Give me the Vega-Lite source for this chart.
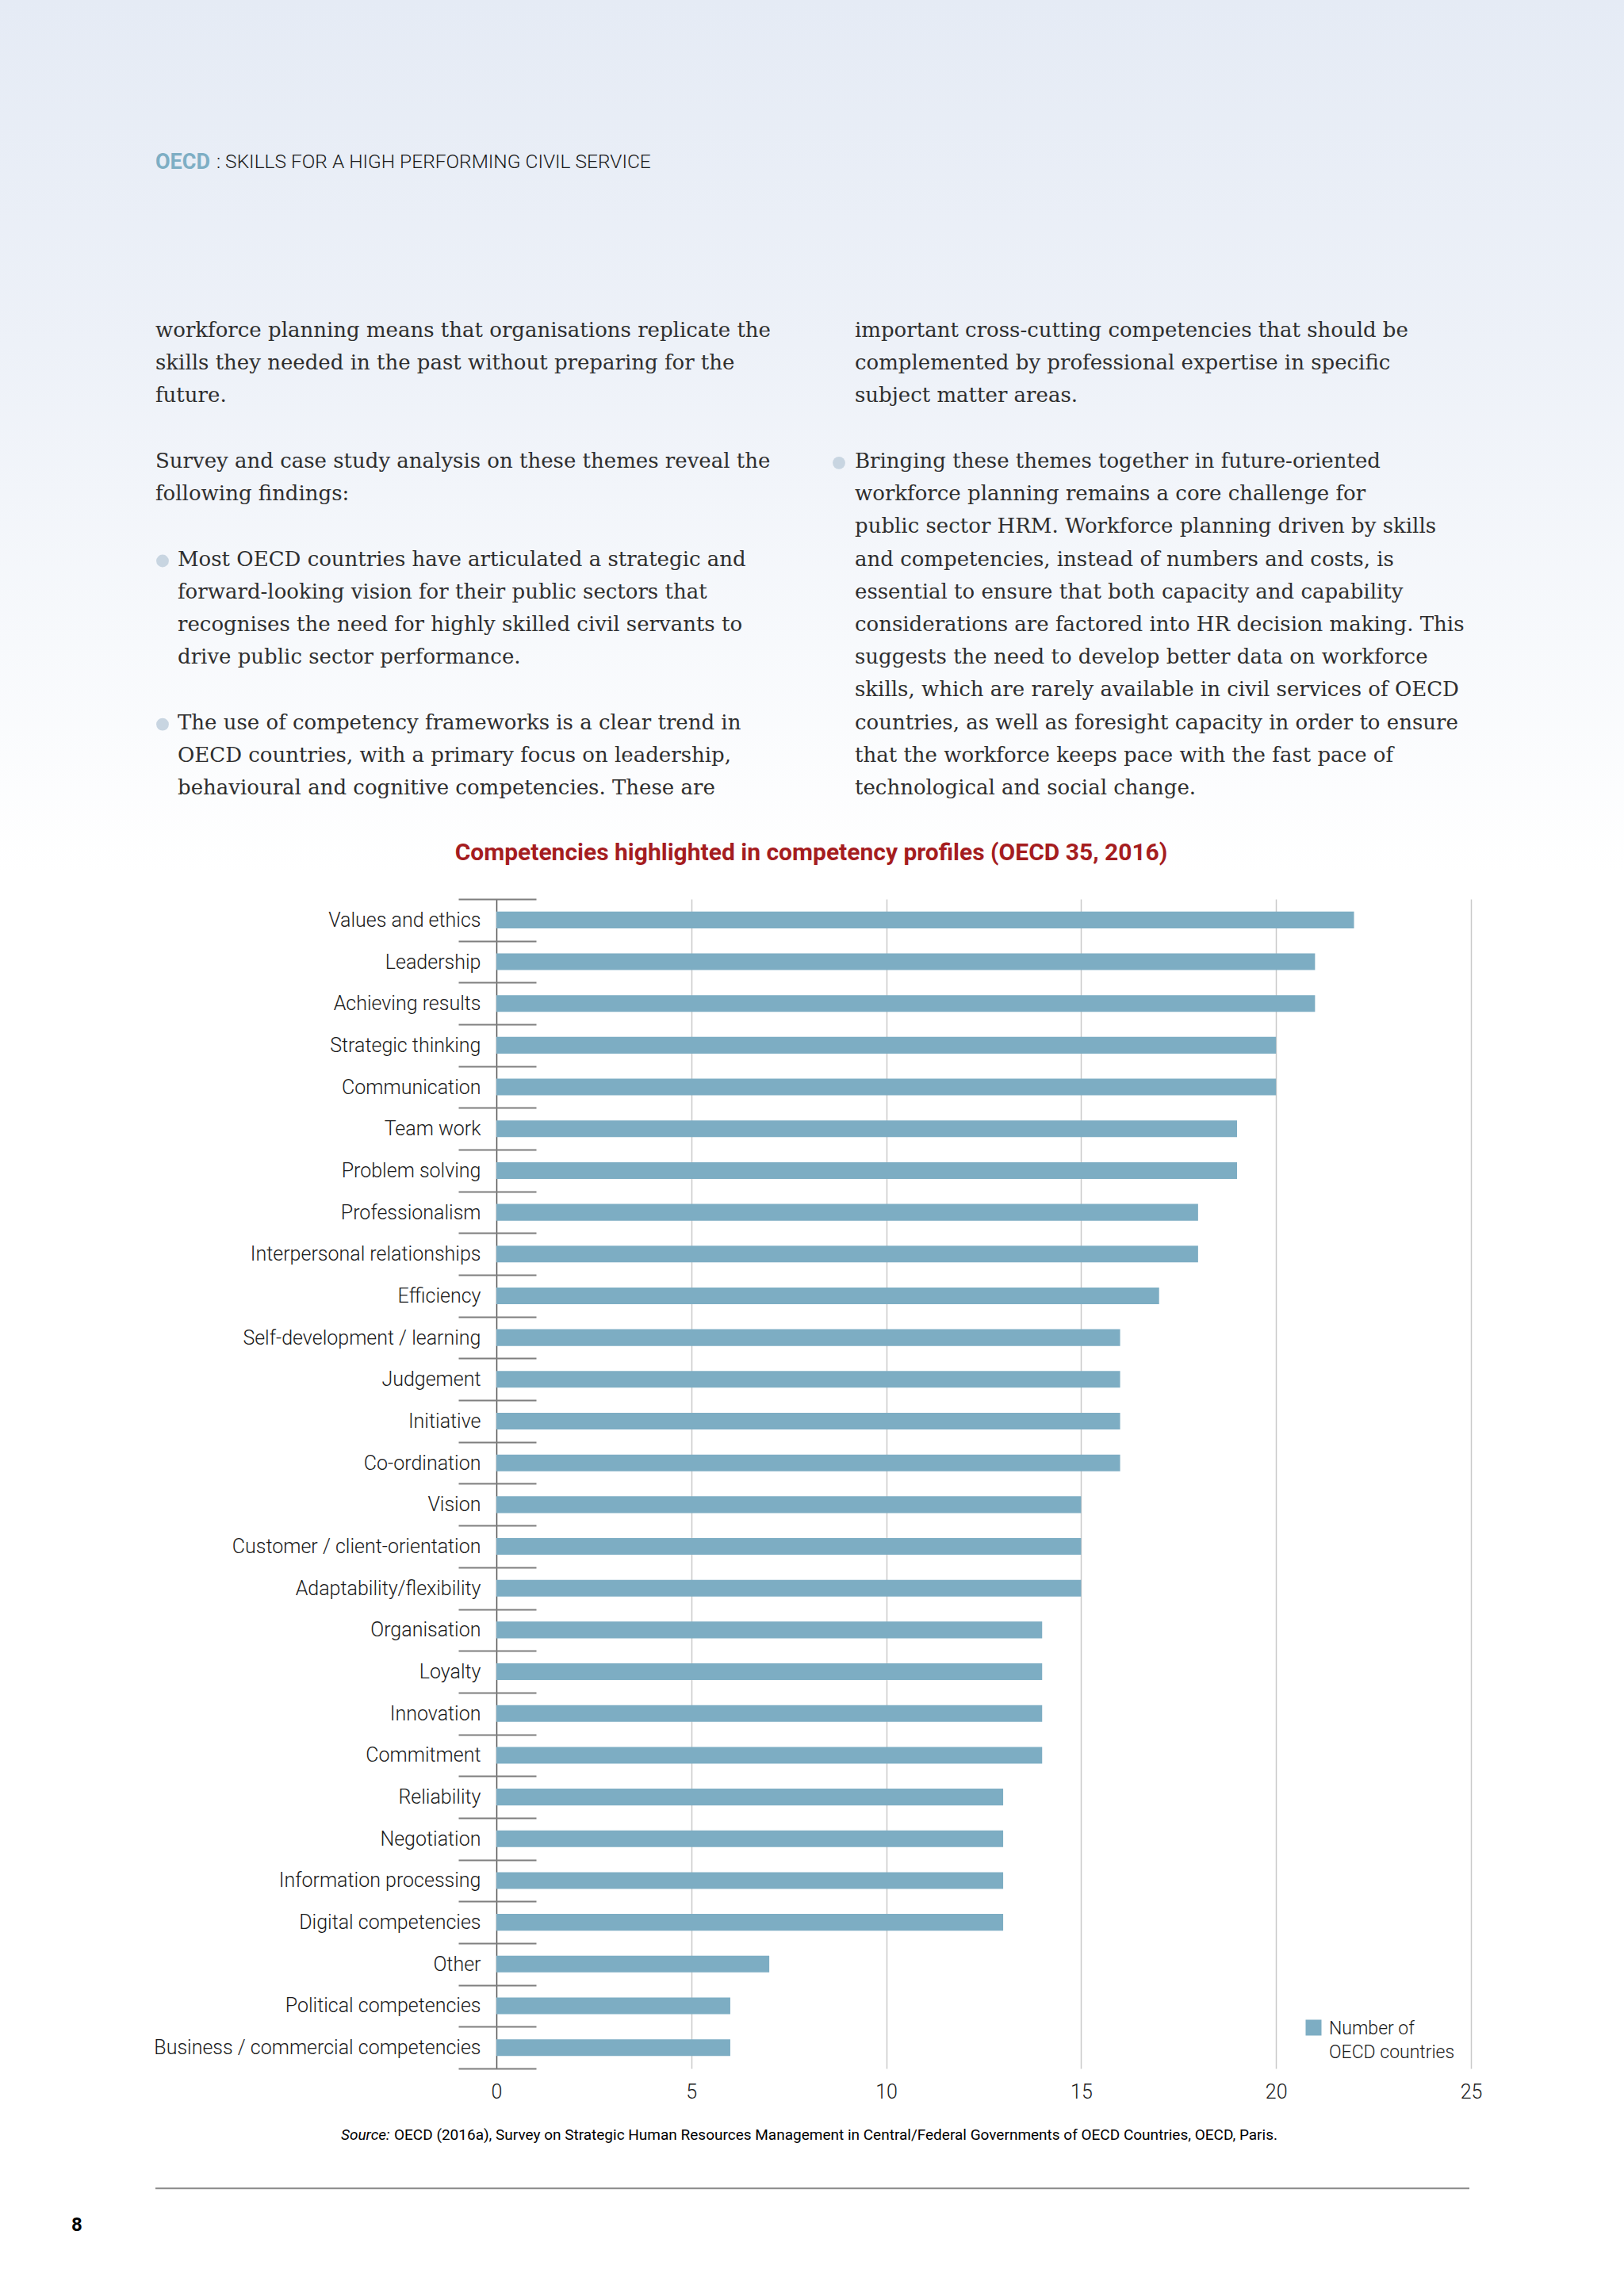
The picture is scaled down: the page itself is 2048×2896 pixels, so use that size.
{
  "$schema": "https://vega.github.io/schema/vega-lite/v6.json",
  "width": 2048,
  "height": 2896,
  "autosize": {"type": "none"},
  "padding": 0,
  "background": "#ffffff",
  "config": {
    "view": {
      "stroke": null,
      "fill": {
        "gradient": "linear",
        "x1": 0, "y1": 0, "x2": 0, "y2": 1,
        "stops": [
          {"offset": 0, "color": "#e5ebf5"},
          {"offset": 0.15, "color": "#edf1f8"},
          {"offset": 0.28, "color": "#f7f9fc"},
          {"offset": 0.38, "color": "#ffffff"},
          {"offset": 1, "color": "#ffffff"}
        ]
      }
    },
    "font": "Roboto"
  },
  "datasets": {
    "bars": [
      {"competency": "Values and ethics", "count": 22, "measure": "Number of OECD countries"},
      {"competency": "Leadership", "count": 21, "measure": "Number of OECD countries"},
      {"competency": "Achieving results", "count": 21, "measure": "Number of OECD countries"},
      {"competency": "Strategic thinking", "count": 20, "measure": "Number of OECD countries"},
      {"competency": "Communication", "count": 20, "measure": "Number of OECD countries"},
      {"competency": "Team work", "count": 19, "measure": "Number of OECD countries"},
      {"competency": "Problem solving", "count": 19, "measure": "Number of OECD countries"},
      {"competency": "Professionalism", "count": 18, "measure": "Number of OECD countries"},
      {"competency": "Interpersonal relationships", "count": 18, "measure": "Number of OECD countries"},
      {"competency": "Efficiency", "count": 17, "measure": "Number of OECD countries"},
      {"competency": "Self-development / learning", "count": 16, "measure": "Number of OECD countries"},
      {"competency": "Judgement", "count": 16, "measure": "Number of OECD countries"},
      {"competency": "Initiative", "count": 16, "measure": "Number of OECD countries"},
      {"competency": "Co-ordination", "count": 16, "measure": "Number of OECD countries"},
      {"competency": "Vision", "count": 15, "measure": "Number of OECD countries"},
      {"competency": "Customer / client-orientation", "count": 15, "measure": "Number of OECD countries"},
      {"competency": "Adaptability/flexibility", "count": 15, "measure": "Number of OECD countries"},
      {"competency": "Organisation", "count": 14, "measure": "Number of OECD countries"},
      {"competency": "Loyalty", "count": 14, "measure": "Number of OECD countries"},
      {"competency": "Innovation", "count": 14, "measure": "Number of OECD countries"},
      {"competency": "Commitment", "count": 14, "measure": "Number of OECD countries"},
      {"competency": "Reliability", "count": 13, "measure": "Number of OECD countries"},
      {"competency": "Negotiation", "count": 13, "measure": "Number of OECD countries"},
      {"competency": "Information processing", "count": 13, "measure": "Number of OECD countries"},
      {"competency": "Digital competencies", "count": 13, "measure": "Number of OECD countries"},
      {"competency": "Other", "count": 7, "measure": "Number of OECD countries"},
      {"competency": "Political competencies", "count": 6, "measure": "Number of OECD countries"},
      {"competency": "Business / commercial competencies", "count": 6, "measure": "Number of OECD countries"}
    ],
    "page": [
      {"kind": "h1", "text": "OECD", "col": 0, "row": -5},
      {"kind": "h2", "text": ": SKILLS FOR A HIGH PERFORMING CIVIL SERVICE", "col": 0, "row": -5},
      {"kind": "body", "col": 0, "row": 0, "indent": false, "bullet": false, "text": "workforce planning means that organisations replicate the"},
      {"kind": "body", "col": 0, "row": 1, "indent": false, "bullet": false, "text": "skills they needed in the past without preparing for the"},
      {"kind": "body", "col": 0, "row": 2, "indent": false, "bullet": false, "text": "future."},
      {"kind": "body", "col": 0, "row": 4, "indent": false, "bullet": false, "text": "Survey and case study analysis on these themes reveal the"},
      {"kind": "body", "col": 0, "row": 5, "indent": false, "bullet": false, "text": "following findings:"},
      {"kind": "body", "col": 0, "row": 7, "indent": true, "bullet": true, "text": "Most OECD countries have articulated a strategic and"},
      {"kind": "body", "col": 0, "row": 8, "indent": true, "bullet": false, "text": "forward-looking vision for their public sectors that"},
      {"kind": "body", "col": 0, "row": 9, "indent": true, "bullet": false, "text": "recognises the need for highly skilled civil servants to"},
      {"kind": "body", "col": 0, "row": 10, "indent": true, "bullet": false, "text": "drive public sector performance."},
      {"kind": "body", "col": 0, "row": 12, "indent": true, "bullet": true, "text": "The use of competency frameworks is a clear trend in"},
      {"kind": "body", "col": 0, "row": 13, "indent": true, "bullet": false, "text": "OECD countries, with a primary focus on leadership,"},
      {"kind": "body", "col": 0, "row": 14, "indent": true, "bullet": false, "text": "behavioural and cognitive competencies. These are"},
      {"kind": "body", "col": 1, "row": 0, "indent": false, "bullet": false, "text": "important cross-cutting competencies that should be"},
      {"kind": "body", "col": 1, "row": 1, "indent": false, "bullet": false, "text": "complemented by professional expertise in specific"},
      {"kind": "body", "col": 1, "row": 2, "indent": false, "bullet": false, "text": "subject matter areas."},
      {"kind": "body", "col": 1, "row": 4, "indent": false, "bullet": true, "text": "Bringing these themes together in future-oriented"},
      {"kind": "body", "col": 1, "row": 5, "indent": false, "bullet": false, "text": "workforce planning remains a core challenge for"},
      {"kind": "body", "col": 1, "row": 6, "indent": false, "bullet": false, "text": "public sector HRM. Workforce planning driven by skills"},
      {"kind": "body", "col": 1, "row": 7, "indent": false, "bullet": false, "text": "and competencies, instead of numbers and costs, is"},
      {"kind": "body", "col": 1, "row": 8, "indent": false, "bullet": false, "text": "essential to ensure that both capacity and capability"},
      {"kind": "body", "col": 1, "row": 9, "indent": false, "bullet": false, "text": "considerations are factored into HR decision making. This"},
      {"kind": "body", "col": 1, "row": 10, "indent": false, "bullet": false, "text": "suggests the need to develop better data on workforce"},
      {"kind": "body", "col": 1, "row": 11, "indent": false, "bullet": false, "text": "skills, which are rarely available in civil services of OECD"},
      {"kind": "body", "col": 1, "row": 12, "indent": false, "bullet": false, "text": "countries, as well as foresight capacity in order to ensure"},
      {"kind": "body", "col": 1, "row": 13, "indent": false, "bullet": false, "text": "that the workforce keeps pace with the fast pace of"},
      {"kind": "body", "col": 1, "row": 14, "indent": false, "bullet": false, "text": "technological and social change."},
      {"kind": "title", "text": "Competencies highlighted in competency profiles (OECD 35, 2016)", "col": 0, "row": 16},
      {"kind": "src1", "text": "Source:", "col": 0, "row": 55},
      {"kind": "src2", "text": "OECD (2016a), Survey on Strategic Human Resources Management in Central/Federal Governments of OECD Countries, OECD, Paris.", "col": 0, "row": 55},
      {"kind": "rule", "col": 0, "col2": 1.8787, "row": 57},
      {"kind": "page", "text": "8", "col": 0, "row": 58}
    ]
  },
  "layer": [
    {
      "data": {"name": "bars"},
      "mark": {"type": "bar", "height": {"band": 0.4}},
      "encoding": {
        "y": {
          "field": "competency",
          "type": "nominal",
          "sort": null,
          "scale": {"range": [1134, 2609], "paddingInner": 0, "paddingOuter": 0},
          "axis": {
            "title": null,
            "offset": -676,
            "tickSize": 98,
            "tickBand": "extent",
            "tickColor": "#7f7f7f",
            "tickWidth": 2,
            "domain": false,
            "grid": false,
            "labelPadding": -28,
            "labelFont": "Roboto",
            "labelFontWeight": 300,
            "labelFontSize": 25,
            "labelColor": "#1a1a1a",
            "labelLimit": 600
          }
        },
        "x": {
          "field": "count",
          "type": "quantitative",
          "scale": {"domain": [0, 25], "range": [626, 1855], "nice": false},
          "axis": {
            "title": null,
            "orient": "top",
            "offset": -2651,
            "values": [0, 5, 10, 15, 20, 25],
            "ticks": false,
            "tickSize": 0,
            "domain": false,
            "grid": true,
            "gridColor": {"condition": {"test": "datum.value === 0", "value": "#555555"}, "value": "#c9c9c9"},
            "gridWidth": 1.5,
            "labelPadding": 0,
            "labelFlush": false,
            "labelFont": "Roboto",
            "labelFontWeight": 300,
            "labelFontSize": 25,
            "labelColor": "#1a1a1a"
          }
        },
        "color": {
          "field": "measure",
          "type": "nominal",
          "scale": {"range": ["#7dadc3"]},
          "legend": {
            "orient": "none",
            "legendX": 1645,
            "legendY": 2546,
            "title": null,
            "padding": 0,
            "symbolType": "square",
            "symbolSize": 400,
            "symbolStrokeWidth": 0,
            "labelFont": "Roboto",
            "labelFontWeight": 300,
            "labelFontSize": 23,
            "labelColor": "#1a1a1a",
            "labelOffset": 8,
            "labelLimit": 400,
            "labelBaseline": "alphabetic",
            "labelExpr": "['Number of', 'OECD countries']",
            "encode": {"labels": {"update": {"lineHeight": {"value": 30}, "dy": {"value": 8}}}}
          }
        }
      }
    },
    {
      "data": {"name": "page"},
      "encoding": {
        "x": {"field": "col", "type": "quantitative", "scale": {"domain": [0, 1], "range": [196, 1078], "nice": false, "zero": false}, "axis": null},
        "y": {"field": "row", "type": "quantitative", "scale": {"domain": [0, 14], "range": [417, 994], "nice": false, "zero": false}, "axis": null}
      },
      "layer": [
        {
          "transform": [{"filter": "datum.kind === 'body' && !datum.indent"}],
          "mark": {"type": "text", "align": "left", "baseline": "middle", "font": "DejaVu Serif", "fontSize": 26, "color": "#2e2e2e"},
          "encoding": {"text": {"field": "text"}}
        },
        {
          "transform": [{"filter": "datum.kind === 'body' && datum.indent"}],
          "mark": {"type": "text", "align": "left", "baseline": "middle", "dx": 28, "font": "DejaVu Serif", "fontSize": 26, "color": "#2e2e2e"},
          "encoding": {"text": {"field": "text"}}
        },
        {
          "transform": [{"filter": "datum.bullet && datum.col === 0"}],
          "mark": {"type": "circle", "size": 250, "color": "#c8d5e1", "opacity": 1, "xOffset": 9, "yOffset": 2},
          "encoding": {}
        },
        {
          "transform": [{"filter": "datum.bullet && datum.col === 1"}],
          "mark": {"type": "circle", "size": 250, "color": "#c8d5e1", "opacity": 1, "xOffset": -20, "yOffset": 2},
          "encoding": {}
        },
        {
          "transform": [{"filter": "datum.kind === 'h1'"}],
          "mark": {"type": "text", "align": "left", "baseline": "middle", "font": "Roboto", "fontWeight": "bold", "fontSize": 27, "color": "#7eaec4", "yOffset": -6},
          "encoding": {"text": {"field": "text"}}
        },
        {
          "transform": [{"filter": "datum.kind === 'h2'"}],
          "mark": {"type": "text", "align": "left", "baseline": "middle", "dx": 77, "font": "Roboto", "fontWeight": 300, "fontSize": 24.5, "color": "#1a1a1a", "yOffset": -6},
          "encoding": {"text": {"field": "text"}}
        },
        {
          "transform": [{"filter": "datum.kind === 'title'"}],
          "mark": {"type": "text", "align": "center", "baseline": "middle", "dx": 827, "font": "Roboto", "fontWeight": "bold", "fontSize": 30, "color": "#a51d1f"},
          "encoding": {"text": {"field": "text"}}
        },
        {
          "transform": [{"filter": "datum.kind === 'src1'"}],
          "mark": {"type": "text", "align": "left", "baseline": "middle", "dx": 234, "yOffset": 9, "font": "Roboto", "fontStyle": "italic", "fontSize": 19, "color": "#000000"},
          "encoding": {"text": {"field": "text"}}
        },
        {
          "transform": [{"filter": "datum.kind === 'src2'"}],
          "mark": {"type": "text", "align": "left", "baseline": "middle", "dx": 301, "yOffset": 9, "font": "Roboto", "fontSize": 19, "color": "#000000"},
          "encoding": {"text": {"field": "text"}}
        },
        {
          "transform": [{"filter": "datum.kind === 'rule'"}],
          "mark": {"type": "rule", "color": "#8a8a8a", "strokeWidth": 2, "yOffset": -6},
          "encoding": {"x2": {"field": "col2"}}
        },
        {
          "transform": [{"filter": "datum.kind === 'page'"}],
          "mark": {"type": "text", "align": "center", "baseline": "middle", "dx": -99, "font": "Roboto", "fontWeight": "bold", "fontSize": 24, "color": "#000000"},
          "encoding": {"text": {"field": "text"}}
        }
      ]
    }
  ],
  "resolve": {"scale": {"x": "independent", "y": "independent"}, "axis": {"x": "independent", "y": "independent"}}
}
